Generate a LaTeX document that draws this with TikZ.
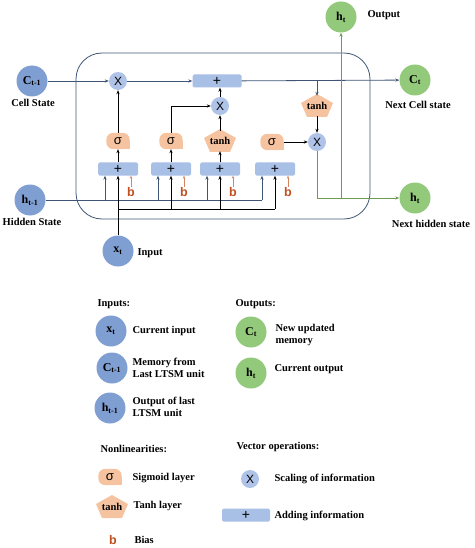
\documentclass[tikz,border=0pt]{standalone}
\usepackage{fontspec}
\setmainfont{Liberation Serif}
\newfontfamily\sansf{Liberation Sans}
\usetikzlibrary{arrows.meta,backgrounds}

\definecolor{cellblue}{HTML}{7F9FD3}
\definecolor{outgreen}{HTML}{93C97B}
\definecolor{barblue}{HTML}{A8BFE6}
\definecolor{opblue}{HTML}{AFC3E8}
\definecolor{peach}{HTML}{F6C3A0}
\definecolor{biasred}{HTML}{C0501E}
\definecolor{outline}{HTML}{3F5576}
\definecolor{wiregreen}{HTML}{6E9A52}

\begin{document}
\begin{tikzpicture}[x=1pt, y=-1pt, font=\bfseries\fontsize{10.5}{12}\selectfont,
    >={Stealth[length=4pt,width=3.2pt]},
    state/.style={circle, fill=cellblue, minimum size=31pt, inner sep=0pt, font=\bfseries\fontsize{12}{12}\selectfont},
    outstate/.style={state, fill=outgreen},
    mult/.style={circle, fill=opblue, minimum size=18pt, inner sep=0pt, font=\sansf\fontsize{12}{12}\selectfont},
    addbar/.style={rectangle, rounded corners=1.5pt, fill=barblue, minimum width=40pt, minimum height=13pt, inner sep=0pt, font=\sansf\fontsize{14}{14}\selectfont},
    sig/.style={minimum width=23pt, minimum height=16pt, inner sep=0pt, font=\sansf\fontsize{13}{13}\selectfont},
    tanhbox/.style={minimum width=30pt, minimum height=20pt, inner sep=0pt, font=\bfseries\fontsize{10.5}{10.5}\selectfont},
    bias/.style={text=biasred, inner sep=0pt, font=\sansf\bfseries\fontsize{12.5}{12.5}\selectfont},
    hwire/.style={draw=outline, line width=0.8pt},
    gwire/.style={draw=wiregreen, line width=0.8pt},
    bwire/.style={draw=biasred!70, line width=0.5pt, >={Stealth[length=3pt,width=2.4pt]}},
    lbl/.style={anchor=west, align=left}]
    \useasboundingbox (0,0) rectangle (474,548);

    % the cell
    \draw[hwire, rounded corners=26pt] (76,53) rectangle (370,219);

    % states in and out
    \node[state] (cprev) at (32,81) {C\textsubscript{t-1}};
    \node (cprev-lbl) at (33,103) {Cell State};
    \node[state] (hprev) at (30,200) {h\textsubscript{t-1}};
    \node (hprev-lbl) at (32,222) {Hidden State};
    \node[state] (xin) at (118,251) {x\textsubscript{t}};
    \node[lbl] (xin-lbl) at (134,253) {Input};
    \node[outstate] (cnext) at (415,80) {C\textsubscript{t}};
    \node (cnext-lbl) at (418,105) {Next Cell state};
    \node[outstate] (hnext) at (415,198) {h\textsubscript{t}};
    \node (hnext-lbl) at (431,224) {Next hidden state};
    \node[outstate] (hout) at (341,17) {h\textsubscript{t}};
    \node[lbl] (hout-lbl) at (364,15) {Output};

    % gates
    \node[mult] (fx) at (118,81) {X};
    \node[addbar, minimum width=49pt] (cadd) at (217,81) {+};
    \node[mult] (ix) at (220,106) {X};
    \node[tanhbox] (ctanh) at (317,106) {tanh};
    \node[mult] (ox) at (317,142) {X};
    \node[sig] (fsig) at (118,141) {σ};
    \node[sig] (isig) at (171,141) {σ};
    \node[tanhbox] (gtanh) at (220,141) {tanh};
    \node[sig] (osig) at (272,142) {σ};

    \foreach \i/\x in {1/118,2/171,3/220,4/275} {
        \node[addbar] (g\i) at (\x,169) {+};
        \node[bias] (b\i) at (\x+13,192) {b};
        \draw[bwire,->] (b\i) -- (b\i |- g\i.south);
    }

    % cell state line
    \draw[hwire,->] (cprev) -- (fx);
    \draw[hwire,->] (fx) -- (cadd);
    \draw[hwire,->] (cadd) -- (cnext);
    \draw[hwire,->] (ctanh |- cadd) -- (ctanh);

    % gate outputs
    \draw[line width=0.8pt,->] (fsig) -- (fx);
    \draw[line width=0.8pt,->] (isig.north) |- (ix);
    \draw[line width=0.8pt,->] (gtanh) -- (ix);
    \draw[line width=0.8pt,->] (ix.north) -- (ix.north |- cadd.south);
    \draw[line width=0.8pt,->] (ctanh) -- (ox);
    \draw[line width=0.8pt,->] (osig) -- (ox);
    \draw[line width=0.8pt,->] (g1) -- (fsig);
    \draw[line width=0.8pt,->] (g2) -- (isig);
    \draw[line width=0.8pt,->] (g3) -- (gtanh);

    % hidden state out
    \draw[gwire,->] (ox) |- (hnext);
    \draw[gwire,->] (hout |- hnext) -- (hout);

    % h_{t-1} and x_t into the gates
    \draw[hwire] (hprev) -- ([xshift=-13pt]g4.south |- hprev);
    \foreach \i in {1,...,4}
        \draw[hwire,->] ([xshift=-13pt]g\i.south |- hprev) -- ([xshift=-13pt]g\i.south);
    \coordinate (xjoin) at (118,209);
    \draw[line width=0.8pt,->] (xin) -- (g1);
    \draw[line width=0.8pt] (xjoin) -- (g4.south |- xjoin);
    \foreach \i in {2,3,4}
        \draw[line width=0.8pt,->] (g\i.south |- xjoin) -- (g\i.south);

    % legend
    \node[lbl] (in-head) at (94,304) {Inputs:};
    \node[state] (leg-x) at (111,331) {x\textsubscript{t}};
    \node[lbl] (leg-x-txt) at (129,331) {Current input};
    \node[state] (leg-c) at (112,368) {C\textsubscript{t-1}};
    \node[lbl] (leg-c-txt) at (129,368) {Memory from\\Last LTSM unit};
    \node[state] (leg-h) at (110,408) {h\textsubscript{t-1}};
    \node[lbl] (leg-h-txt) at (129,407) {Output of last\\LTSM unit};
    \node[lbl] (out-head) at (232,304) {Outputs:};
    \node[outstate] (leg-cn) at (251,332) {C\textsubscript{t}};
    \node[lbl] (leg-cn-txt) at (272,335) {New updated\\memory};
    \node[outstate] (leg-hn) at (251,373) {h\textsubscript{t}};
    \node[lbl] (leg-hn-txt) at (271,369) {Current output};
    \node[lbl] (nl-head) at (97,449) {Nonlinearities:};
    \node[sig] (leg-sig) at (110,477) {σ};
    \node[lbl] (leg-sig-txt) at (129,478) {Sigmoid layer};
    \node[tanhbox] (leg-tanh) at (112,507) {tanh};
    \node[lbl] (leg-tanh-txt) at (130,506) {Tanh layer};
    \node[bias] (leg-b) at (113,540) {b};
    \node[lbl] (leg-b-txt) at (131,540) {Bias};
    \node[lbl] (vo-head) at (233,447) {Vector operations:};
    \node[mult] (leg-mult) at (250,479) {X};
    \node[lbl] (leg-mult-txt) at (271,479) {Scaling of information};
    \node[addbar, minimum width=48pt] (leg-add) at (246,515) {+};
    \node[lbl] (leg-add-txt) at (271,516) {Adding information};

    % sigmoid blobs and tanh pentagons
    \begin{pgfonlayer}{background}
        \foreach \n in {fsig,isig,osig,leg-sig} {
            \fill[peach, rounded corners=7pt] (\n.south west) rectangle (\n.north east);
            \fill[peach] (\n.center) rectangle (\n.south east);
        }
        \foreach \n in {ctanh,gtanh,leg-tanh}
            \fill[peach] ([shift={(0,-12)}]\n.center) -- ([shift={(16,-3)}]\n.center)
                -- ([shift={(10,11)}]\n.center) -- ([shift={(-10,11)}]\n.center)
                -- ([shift={(-16,-3)}]\n.center) -- cycle;
    \end{pgfonlayer}
\end{tikzpicture}
\end{document}
